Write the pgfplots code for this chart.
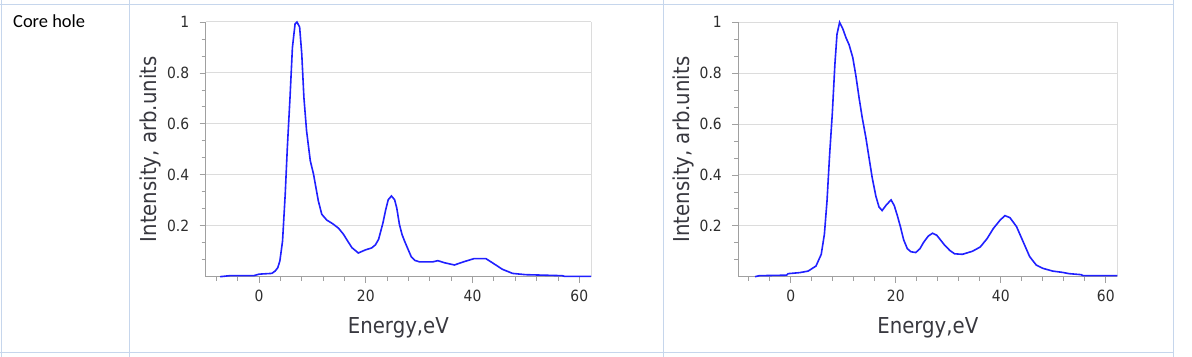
\documentclass[border=0pt]{standalone}
\usepackage{fontspec}
\usepackage{pgfplots}
\pgfplotsset{compat=1.18}
\setmainfont{DejaVu Sans}[FakeStretch=0.9]
\newfontfamily\cellfont{Carlito}
\definecolor{tblline}{HTML}{C6D6EC}
\definecolor{axgray}{HTML}{A0A0A0}
\definecolor{gridgray}{HTML}{DCDCDC}
\definecolor{ticktext}{HTML}{2E2E2E}
\definecolor{labtext}{HTML}{38383F}
\definecolor{curve}{HTML}{2020FF}

\pgfplotsset{
  spec/.style={
    scale only axis,
    xmin=-10, xmax=62.2, ymin=0, ymax=1,
    axis x line*=bottom, axis y line*=left,
    axis line style={draw=axgray, line width=0.9bp, -},
    xtick={0,20,40,60},
    minor xtick={-8,-4,4,8,12,16,24,28,32,36,44,48,52,56},
    ytick={0.2,0.4,0.6,0.8,1},
    minor ytick={0.0667,0.1333,0.2667,0.3333,0.4667,0.5333,0.6667,0.7333,0.8667,0.9333},
    tick align=outside,
    major tick length=6bp, minor tick length=4bp,
    tick style={draw=axgray, line width=0.8bp},
    ymajorgrids,
    major grid style={draw=gridgray, line width=1bp},
    /pgf/number format/assume math mode=true,
    tick label style={font=\fontsize{15.5}{18}\selectfont, text=ticktext},
    xticklabel style={yshift=-4bp},
    yticklabel style={xshift=-7bp},
    label style={font=\fontsize{22}{26}\selectfont, text=labtext},
    xlabel={Energy,eV},
    ylabel={Intensity, arb.units},
    xlabel style={at={(axis description cs:0.5,-0.2015)}, anchor=center},
    ylabel style={at={(axis description cs:-0.1446,0.5)}, anchor=center},
    clip=false,
  }
}

\begin{document}
\begin{tikzpicture}
\useasboundingbox (0bp,0bp) rectangle (1192bp,357bp);
\fill[white] (0bp,0bp) rectangle (1192bp,357bp);
% table lines
\draw[tblline, line width=1.2bp] (0bp,352.5bp) -- (1173.5bp,352.5bp);
\draw[tblline, line width=1.2bp] (0bp,4.7bp) -- (1173.5bp,4.7bp);
\draw[tblline, line width=1.2bp] (1.5bp,0bp) -- (1.5bp,357bp);
\draw[tblline, line width=1.2bp] (129.5bp,0bp) -- (129.5bp,357bp);
\draw[tblline, line width=1.2bp] (663.5bp,0bp) -- (663.5bp,357bp);
\draw[tblline, line width=1.2bp] (1173.5bp,0bp) -- (1173.5bp,357bp);
\node[anchor=base west, inner sep=0pt, font=\cellfont\fontsize{18.5}{22}\selectfont] at (13bp,329.7bp) {Core hole};

\begin{axis}[spec, at={(205.7bp,80.3bp)}, anchor=south west, width=385.3bp, height=254.7bp]
\draw[gridgray, line width=1bp] (rel axis cs:1,0) -- (rel axis cs:1,1);
\addplot[curve, line width=1.6bp] coordinates {
(-7.3,0) (-5.5,0.004) (-1,0.004) (0,0.01) (2.4,0.013) (3.0,0.022) (3.5,0.035)
(3.9,0.062) (4.4,0.14) (4.9,0.324) (5.3,0.508) (5.8,0.704) (6.25,0.90)
(6.75,0.993) (7.1,1.0) (7.6,0.98) (8.0,0.875) (8.4,0.704) (8.9,0.573)
(9.6,0.455) (10.2,0.403) (11.1,0.298) (11.75,0.245) (12.7,0.222) (13.8,0.208)
(14.9,0.19) (15.8,0.167) (16.6,0.14) (17.4,0.114) (18.6,0.093) (19.9,0.105)
(21.1,0.113) (21.8,0.125) (22.4,0.147) (23.2,0.21) (23.7,0.26) (24.2,0.302)
(24.8,0.317) (25.4,0.302) (25.8,0.27) (26.3,0.205) (26.8,0.165) (27.3,0.138)
(28.5,0.079) (29.2,0.064) (30.1,0.058) (32.5,0.058) (33.5,0.063) (34.7,0.055)
(36.6,0.046) (38.4,0.059) (40.3,0.071) (42.5,0.071) (43.7,0.055) (45.6,0.029)
(47.5,0.013) (49.9,0.008) (56.8,0.004) (57.3,0.001) (62.2,0.001)
};
\end{axis}

\begin{axis}[spec, at={(738.3bp,80.3bp)}, anchor=south west, width=379bp, height=254.4bp]
\draw[gridgray, line width=1bp] (rel axis cs:1,0) -- (rel axis cs:1,1);
\addplot[curve, line width=1.6bp] coordinates {
(-6.8,0) (-6,0.004) (-0.8,0.006) (-0.5,0.012) (1.7,0.016) (3.3,0.022)
(4.8,0.042) (5.8,0.088) (6.4,0.167) (6.9,0.298) (7.4,0.481) (7.9,0.639)
(8.4,0.835) (8.8,0.953) (9.3,1.0) (9.9,0.975) (10.5,0.94) (11.1,0.912)
(11.8,0.862) (12.4,0.79) (13.0,0.704) (13.6,0.626) (14.3,0.547) (14.9,0.468)
(15.5,0.39) (16.2,0.317) (16.8,0.274) (17.4,0.26) (18.2,0.282) (19.1,0.302)
(19.7,0.28) (20.3,0.24) (20.9,0.195) (21.5,0.145) (22.2,0.11) (22.9,0.098)
(23.8,0.095) (24.6,0.11) (25.3,0.135) (26.2,0.16) (27.0,0.171) (27.8,0.163)
(28.5,0.145) (29.3,0.124) (30.3,0.103) (31.2,0.09) (32.7,0.088) (34.6,0.1)
(36.1,0.117) (37.4,0.15) (38.6,0.19) (39.9,0.223) (40.8,0.24) (41.75,0.232)
(43.0,0.197) (44.25,0.138) (45.5,0.079) (46.75,0.046) (48.0,0.033) (49.9,0.022)
(51.75,0.017) (53,0.012) (55.3,0.008) (55.7,0.004) (62.2,0.004)
};
\end{axis}
\end{tikzpicture}
\end{document}
